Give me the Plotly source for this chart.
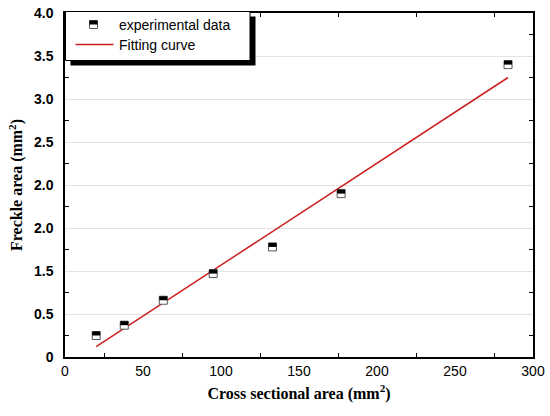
import plotly.graph_objects as go

area_x = [20, 38, 63, 95, 133, 177, 284]
freckle_y = [0.25, 0.37, 0.66, 0.97, 1.28, 1.90, 3.40]

# end points of the fitted straight line
fit_x = [20, 284]
fit_y = [0.12, 3.25]

# y tick labels exactly as printed on the original figure
y_tickvals = [0, 0.5, 1.0, 1.5, 2.0, 2.5, 3.0, 3.5, 4.0]
y_ticktext = ["0", "0.5", "1.5", "2.0", "2.0", "2.5", "3.0", "3.5", "4.0"]
y_minorvals = [0.25, 0.75, 1.25, 1.75, 2.25, 2.75, 3.25, 3.75]
x_minorvals = [25, 75, 125, 175, 225, 275]

sans = "Liberation Sans, Arial, sans-serif"
serif = "Liberation Serif, Times New Roman, serif"
red = "#cc2020"
edge = "#555555"

fig = go.Figure()

fig.add_trace(go.Scatter(
    x=fit_x, y=fit_y, mode="lines",
    line=dict(color=red, width=1.5),
    showlegend=False, hoverinfo="skip"))

fig.add_trace(go.Scatter(
    x=area_x, y=freckle_y, mode="markers",
    marker=dict(symbol="square", size=8, color="white",
                line=dict(color=edge, width=1)),
    showlegend=False))

shapes = []
# black upper half of every marker
for xv, yv in zip(area_x, freckle_y):
    shapes.append(dict(
        type="rect", xref="x", yref="y",
        xsizemode="pixel", ysizemode="pixel",
        xanchor=xv, yanchor=yv,
        x0=-4, x1=4, y0=0, y1=4,
        fillcolor="black", line=dict(width=0)))

# hand-made legend box with drop shadow, anchored at the top-left corner
legend_box = dict(xref="paper", yref="paper", xsizemode="pixel",
                  ysizemode="pixel", xanchor=0, yanchor=1)
shapes.append(dict(type="rect", x0=5.5, x1=190.5, y0=-52.5, y1=-3.5,
                   fillcolor="black", line=dict(width=0), **legend_box))
shapes.append(dict(type="rect", x0=0.5, x1=185, y0=-47.5, y1=1.5,
                   fillcolor="white", line=dict(color="black", width=1),
                   **legend_box))
shapes.append(dict(type="rect", x0=24.5, x1=32.5, y0=-15.5, y1=-7.5,
                   fillcolor="white", line=dict(color=edge, width=1),
                   **legend_box))
shapes.append(dict(type="rect", x0=24.5, x1=32.5, y0=-11.5, y1=-7.5,
                   fillcolor="black", line=dict(width=0), **legend_box))
shapes.append(dict(type="line", x0=10.5, x1=48.5, y0=-31.5, y1=-31.5,
                   line=dict(color=red, width=1.5), **legend_box))

annotations = [
    dict(text="experimental data", xref="paper", yref="paper", x=0, y=1,
         xanchor="left", yanchor="middle", xshift=52, yshift=-11.5,
         showarrow=False, font=dict(family=sans, size=14, color="black")),
    dict(text="Fitting curve", xref="paper", yref="paper", x=0, y=1,
         xanchor="left", yanchor="middle", xshift=52, yshift=-31.5,
         showarrow=False, font=dict(family=sans, size=14, color="black")),
]

fig.update_layout(
    width=550, height=416,
    margin=dict(l=64.5, r=17, t=12.5, b=59),
    paper_bgcolor="white", plot_bgcolor="white",
    shapes=shapes, annotations=annotations,
    showlegend=False,
    xaxis=dict(
        range=[0, 300], dtick=50, tick0=0, automargin=False,
        showline=True, linecolor="black", linewidth=1.5, mirror="ticks",
        ticks="", showgrid=False, zeroline=False,
        ticklabelstandoff=0, ticklabeloverflow="allow",
        tickfont=dict(family=sans, size=14, color="black"),
        minor=dict(tickmode="array", tickvals=x_minorvals, ticks="inside",
                   ticklen=4, tickwidth=1.2, tickcolor="black",
                   showgrid=False),
        title=dict(text="<b>Cross sectional area (mm<sup>2</sup>)</b>",
                   font=dict(family=serif, size=16, color="black"),
                   standoff=10),
    ),
    yaxis=dict(
        range=[0, 4], tickmode="array", automargin=False,
        tickvals=y_tickvals, ticktext=y_ticktext,
        showline=True, linecolor="black", linewidth=1.5, mirror="ticks",
        ticks="", showgrid=True, gridcolor="#e2e2e2", gridwidth=1,
        zeroline=False, ticklabelstandoff=7, ticklabeloverflow="allow",
        tickfont=dict(family=sans, size=14, color="black", weight="bold"),
        minor=dict(tickmode="array", tickvals=y_minorvals, ticks="inside",
                   ticklen=4, tickwidth=1.2, tickcolor="black",
                   showgrid=False),
        title=dict(text="<b>Freckle area (mm<sup>2</sup>)</b>",
                   font=dict(family=serif, size=16, color="black"),
                   standoff=7),
    ),
)

# drop the browser's default 8px body margin so the figure fills the window
fig.write_html("out.html", config={"displayModeBar": False},
               post_script="document.body.style.margin='0';")
